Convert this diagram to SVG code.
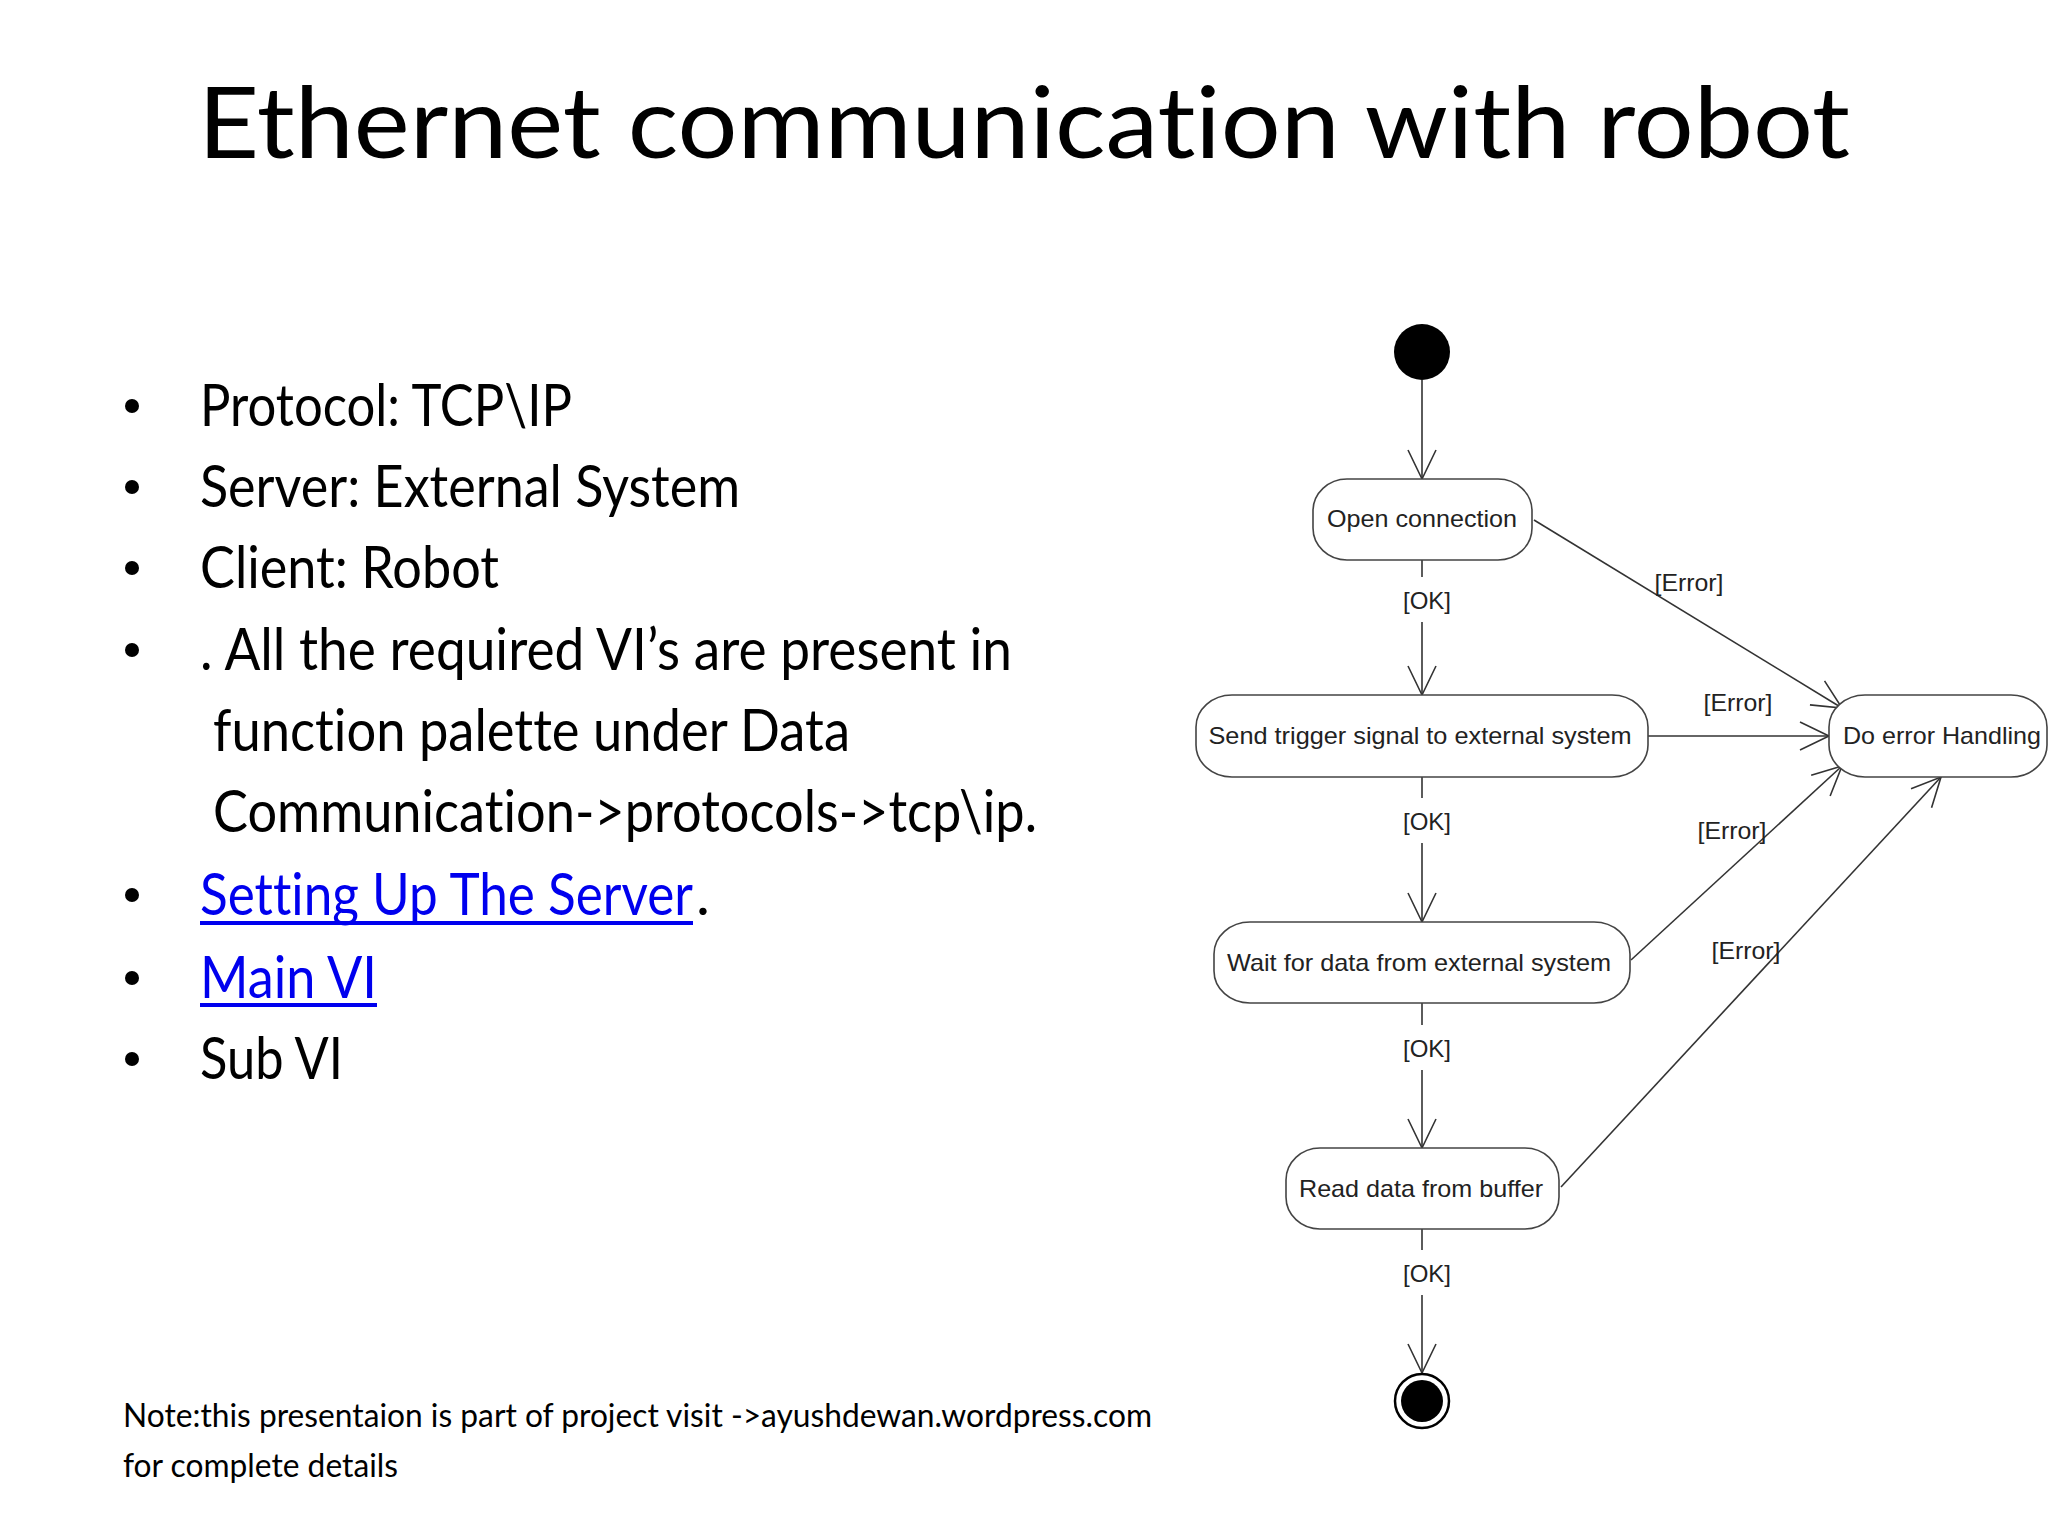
<svg xmlns="http://www.w3.org/2000/svg" width="2048" height="1536" viewBox="0 0 2048 1536">
<style>
.slide{font-family:Lato,"Open Sans","Liberation Sans",sans-serif;fill:#000;font-variant-ligatures:none;font-feature-settings:"liga" 0,"clig" 0}
.link{fill:#0000EE}
.node rect{fill:#fff;stroke:#444;stroke-width:1.6}
.lbl{font-family:"Liberation Sans",Arial,sans-serif;font-size:24px;fill:#222}
.conn line{stroke:#333;stroke-width:1.6}
</style>
<defs>
<marker id="arr" markerUnits="userSpaceOnUse" markerWidth="32" markerHeight="32" viewBox="0 0 32 32" refX="30" refY="16" orient="auto">
<path d="M1,2 L30,16 L1,30" fill="none" stroke="#333" stroke-width="1.6"/>
</marker>
</defs>
<rect width="2048" height="1536" fill="#fff"/>

<text class="slide" x="198" y="158" font-size="98" textLength="1652" lengthAdjust="spacingAndGlyphs">Ethernet communication with robot</text>

<g id="bullets">
<circle cx="132" cy="406" r="7"/>
<circle cx="132" cy="487" r="7"/>
<circle cx="132" cy="568" r="7"/>
<circle cx="132" cy="650" r="7"/>
<circle cx="132" cy="895" r="7"/>
<circle cx="132" cy="978" r="7"/>
<circle cx="132" cy="1059" r="7"/>
<text class="slide" x="200" y="426" font-size="59" textLength="372" lengthAdjust="spacingAndGlyphs">Protocol: TCP\IP</text>
<text class="slide" x="200" y="507" font-size="59" textLength="540" lengthAdjust="spacingAndGlyphs">Server: External System</text>
<text class="slide" x="200" y="588" font-size="59" textLength="299" lengthAdjust="spacingAndGlyphs">Client: Robot</text>
<text class="slide" x="200" y="670" font-size="59" textLength="812" lengthAdjust="spacingAndGlyphs">. All the required VI’s are present in</text>
<text class="slide" x="213" y="751" font-size="59" textLength="637" lengthAdjust="spacingAndGlyphs">function palette under Data</text>
<text class="slide" x="213" y="832" font-size="59" textLength="824" lengthAdjust="spacingAndGlyphs">Communication-&gt;protocols-&gt;tcp\ip.</text>
<text class="slide link" x="200" y="915" font-size="59" textLength="493" lengthAdjust="spacingAndGlyphs">Setting Up The Server</text>
<rect x="200" y="921" width="493" height="4" fill="#0000EE"/>
<text class="slide" x="696" y="915" font-size="59">.</text>
<text class="slide link" x="200" y="998" font-size="59" textLength="177" lengthAdjust="spacingAndGlyphs">Main VI</text>
<rect x="200" y="1003" width="177" height="4" fill="#0000EE"/>
<text class="slide" x="200" y="1079" font-size="59" textLength="143" lengthAdjust="spacingAndGlyphs">Sub VI</text>
</g>

<g id="note">
<text class="slide" x="123" y="1427" font-size="33" textLength="1029" lengthAdjust="spacingAndGlyphs">Note:this presentaion is part of project visit -&gt;ayushdewan.wordpress.com</text>
<text class="slide" x="123" y="1477" font-size="33" textLength="275" lengthAdjust="spacingAndGlyphs">for complete details</text>
</g>

<g id="connectors" class="conn">
<line x1="1422" y1="380" x2="1422" y2="479" marker-end="url(#arr)"/>
<line x1="1422" y1="560" x2="1422" y2="577"/>
<line x1="1422" y1="622" x2="1422" y2="695" marker-end="url(#arr)"/>
<line x1="1422" y1="777" x2="1422" y2="798"/>
<line x1="1422" y1="843" x2="1422" y2="922" marker-end="url(#arr)"/>
<line x1="1422" y1="1003" x2="1422" y2="1025"/>
<line x1="1422" y1="1070" x2="1422" y2="1148" marker-end="url(#arr)"/>
<line x1="1422" y1="1229" x2="1422" y2="1250"/>
<line x1="1422" y1="1295" x2="1422" y2="1373" marker-end="url(#arr)"/>
<line x1="1534" y1="520" x2="1842" y2="708" marker-end="url(#arr)"/>
<line x1="1648" y1="736" x2="1829" y2="736" marker-end="url(#arr)"/>
<line x1="1631" y1="960" x2="1842" y2="766" marker-end="url(#arr)"/>
<line x1="1561" y1="1187" x2="1941" y2="777" marker-end="url(#arr)"/>
<text class="lbl" x="1427" y="609" text-anchor="middle">[OK]</text>
<text class="lbl" x="1427" y="830" text-anchor="middle">[OK]</text>
<text class="lbl" x="1427" y="1057" text-anchor="middle">[OK]</text>
<text class="lbl" x="1427" y="1282" text-anchor="middle">[OK]</text>
<text class="lbl" x="1689" y="591" text-anchor="middle" textLength="69" lengthAdjust="spacingAndGlyphs">[Error]</text>
<text class="lbl" x="1738" y="711" text-anchor="middle" textLength="69" lengthAdjust="spacingAndGlyphs">[Error]</text>
<text class="lbl" x="1732" y="839" text-anchor="middle" textLength="69" lengthAdjust="spacingAndGlyphs">[Error]</text>
<text class="lbl" x="1746" y="959" text-anchor="middle" textLength="69" lengthAdjust="spacingAndGlyphs">[Error]</text>
</g>

<g id="start"><circle cx="1422" cy="352" r="28" fill="#000"/></g>
<g id="open" class="node"><rect x="1313" y="479" width="219" height="81" rx="34" ry="32"/><text class="lbl" x="1422" y="527" text-anchor="middle" textLength="190" lengthAdjust="spacingAndGlyphs">Open connection</text></g>
<g id="send" class="node"><rect x="1196" y="695" width="452" height="82" rx="36" ry="32"/><text class="lbl" x="1420" y="744" text-anchor="middle" textLength="423" lengthAdjust="spacingAndGlyphs">Send trigger signal to external system</text></g>
<g id="error" class="node"><rect x="1829" y="695" width="218" height="82" rx="36" ry="32"/><text class="lbl" x="1843" y="744" textLength="198" lengthAdjust="spacingAndGlyphs">Do error Handling</text></g>
<g id="wait" class="node"><rect x="1214" y="922" width="416" height="81" rx="36" ry="32"/><text class="lbl" x="1419" y="971" text-anchor="middle" textLength="384" lengthAdjust="spacingAndGlyphs">Wait for data from external system</text></g>
<g id="read" class="node"><rect x="1286" y="1148" width="273" height="81" rx="34" ry="32"/><text class="lbl" x="1421" y="1197" text-anchor="middle" textLength="244" lengthAdjust="spacingAndGlyphs">Read data from buffer</text></g>
<g id="end"><circle cx="1422" cy="1401" r="27" fill="#fff" stroke="#000" stroke-width="2.5"/><circle cx="1422" cy="1401" r="21" fill="#000"/></g>
</svg>
